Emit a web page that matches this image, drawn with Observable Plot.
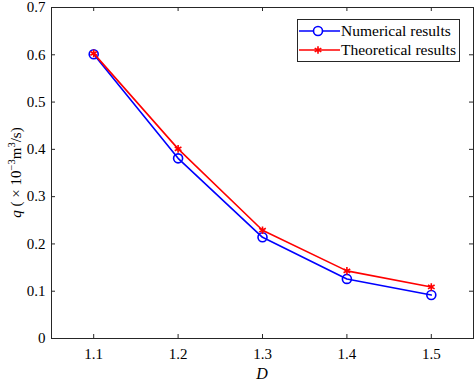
<!DOCTYPE html>
<html>
<head>
<meta charset="utf-8">
<script src="https://cdn.jsdelivr.net/npm/d3@7"></script>
<script src="https://cdn.jsdelivr.net/npm/@observablehq/plot@0.6"></script>
<style>
  html, body { margin: 0; padding: 0; background: #fff; }
  #chart { position: relative; width: 474px; height: 381px; }
</style>
</head>
<body>
<div id="chart"></div>
<script>
const D = [1.1, 1.2, 1.3, 1.4, 1.5];
const numerical = [0.601, 0.381, 0.214, 0.126, 0.092];
const theoretical = [0.603, 0.401, 0.229, 0.143, 0.109];
const xTicks = [1.1, 1.2, 1.3, 1.4, 1.5];
const yTicks = [0, 0.1, 0.2, 0.3, 0.4, 0.5, 0.6, 0.7];
const seriesNames = ["Numerical results", "Theoretical results"];
const colors = ["#0000ff", "#ff0000"];

const numData = D.map((d, i) => ({D: d, q: numerical[i]}));
const theoData = D.map((d, i) => ({D: d, q: theoretical[i]}));

const W = 474, H = 381;
const mL = 51, mR = 1, mT = 7, mB = 43;
const pw = W - mL - mR, ph = H - mT - mB;
const tk = 4;

const plot = Plot.plot({
  width: W, height: H,
  marginLeft: mL, marginRight: mR, marginTop: mT, marginBottom: mB,
  style: {fontFamily: "'Liberation Serif', 'Times New Roman', serif", fontSize: "15px", background: "#fff", color: "#000"},
  x: {domain: [1.05, 1.55]},
  y: {domain: [0, 0.7]},
  marks: [
    Plot.axisX({ticks: xTicks, tickSize: 0, tickPadding: 10, tickFormat: d => d.toFixed(1), label: null}),
    Plot.axisY({ticks: yTicks, tickSize: 0, tickPadding: 6, tickFormat: d => d === 0 ? "0" : d.toFixed(1), label: null}),
    Plot.tickX(xTicks, {x: d => d, insetTop: ph - tk, stroke: "#262626"}),
    Plot.tickX(xTicks, {x: d => d, insetBottom: ph - tk, stroke: "#262626"}),
    Plot.tickY(yTicks, {y: d => d, insetRight: pw - tk, stroke: "#262626"}),
    Plot.tickY(yTicks, {y: d => d, insetLeft: pw - tk, stroke: "#262626"}),
    Plot.frame({stroke: "#262626", strokeWidth: 1}),
    Plot.line(numData, {x: "D", y: "q", stroke: colors[0], strokeWidth: 1.6}),
    Plot.dot(numData, {x: "D", y: "q", stroke: colors[0], fill: "none", r: 4.5, strokeWidth: 1.6}),
    Plot.line(theoData, {x: "D", y: "q", stroke: colors[1], strokeWidth: 1.6}),
    Plot.dot(theoData, {x: "D", y: "q", stroke: colors[1], symbol: "asterisk", r: 3.6, strokeWidth: 1.6})
  ]
});
document.getElementById("chart").appendChild(plot);

const svg = d3.select(plot);
const ff = "'Liberation Serif', 'Times New Roman', serif";

// x label
svg.append("text")
  .attr("x", mL + pw / 2).attr("y", 379)
  .attr("text-anchor", "middle")
  .attr("font-family", ff).attr("font-size", 16).attr("font-style", "italic")
  .text("D");

// y label
const yl = svg.append("text")
  .attr("transform", `translate(21,${mT + ph / 2}) rotate(-90)`)
  .attr("text-anchor", "middle")
  .attr("font-family", ff).attr("font-size", 15);
yl.append("tspan").attr("font-style", "italic").text("q");
yl.append("tspan").text(" ( \u00d7 10");
yl.append("tspan").attr("font-size", 10.5).attr("dy", -6).text("\u22123");
yl.append("tspan").attr("dy", 6).text("m");
yl.append("tspan").attr("font-size", 10.5).attr("dy", -6).text("3");
yl.append("tspan").attr("dy", 6).text("/s)");

// legend
const lx = 297, ly = 19, lw = 162, lh = 42;
const lg = svg.append("g");
lg.append("rect").attr("x", lx + 0.5).attr("y", ly + 0.5).attr("width", lw).attr("height", lh)
  .attr("fill", "#fff").attr("stroke", "#262626").attr("stroke-width", 1);
const rowsY = [ly + 12, ly + 31];
seriesNames.forEach((name, i) => {
  const cy = rowsY[i];
  lg.append("line").attr("x1", lx + 2).attr("x2", lx + 43).attr("y1", cy).attr("y2", cy)
    .attr("stroke", colors[i]).attr("stroke-width", 1.6);
  if (i === 0) {
    lg.append("circle").attr("cx", lx + 21).attr("cy", cy).attr("r", 4.5)
      .attr("fill", "#fff").attr("stroke", colors[i]).attr("stroke-width", 1.6);
  } else {
    const s = d3.symbol(d3.symbolAsterisk, Math.PI * 3.6 * 3.6)();
    lg.append("path").attr("d", s).attr("transform", `translate(${lx + 21},${cy})`)
      .attr("fill", "none").attr("stroke", colors[i]).attr("stroke-width", 1.6);
  }
  lg.append("text").attr("x", lx + 44).attr("y", cy).attr("dy", "0.33em")
    .attr("text-anchor", "start")
    .attr("font-family", ff).attr("font-size", 15.5).text(name);
});
</script>
</body>
</html>
